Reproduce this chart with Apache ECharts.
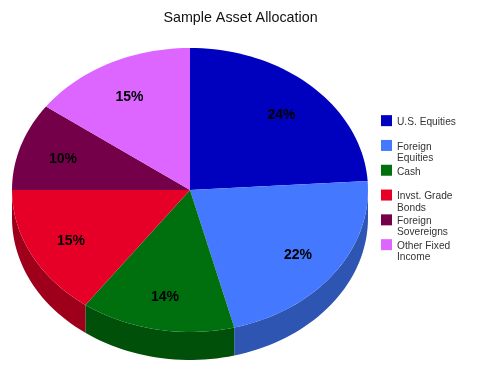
<!DOCTYPE html>
<html>
<head>
<meta charset="utf-8">
<title>Sample Asset Allocation</title>
<script src="https://cdn.jsdelivr.net/npm/echarts@6/dist/echarts.min.js"></script>
<style>
  html, body { margin: 0; padding: 0; background: #fff; }
  #chart { width: 480px; height: 370px; }
</style>
</head>
<body>
<div id="chart"></div>
<script>
  var categories = ['U.S. Equities', 'Foreign\nEquities', 'Cash', 'Invst. Grade\nBonds', 'Foreign\nSovereigns', 'Other Fixed\nIncome'];
  var shares = [24, 22, 14, 15, 10, 15];
  var topColors = ['#0000bf', '#4479ff', '#00700f', '#e60028', '#740049', '#dc66ff'];
  var sideColors = ['#00008f', '#2e55b2', '#00500a', '#9e001c', '#520034', '#9c48b4'];

  // thickness of the pie, in y axis units (radius = 1)
  var depth = 0.197;
  var labelRadius = 0.75;

  var total = shares.reduce(function (a, b) { return a + b; }, 0);

  function startAngle(idx) {
    var sum = 0;
    for (var i = 0; i < idx; i++) sum += shares[i];
    return sum / total * 360;
  }

  function onRim(deg, r, drop) {
    var rad = deg * Math.PI / 180;
    return [r * Math.sin(rad), r * Math.cos(rad) - (drop || 0)];
  }

  function arc(from, to, drop) {
    var pts = [];
    var n = Math.max(2, Math.ceil((to - from) / 2));
    for (var i = 0; i <= n; i++) {
      pts.push(onRim(from + (to - from) * i / n, 1, drop));
    }
    return pts;
  }

  function makeItem(idx) {
    return function (params, api) {
      var from = startAngle(idx);
      var to = from + shares[idx] / total * 360;
      var children = [];

      // only the front of the rim can be seen
      var sideFrom = Math.max(from, 90);
      var sideTo = Math.min(to, 270);
      if (sideTo > sideFrom) {
        var side = arc(sideFrom, sideTo, 0).concat(arc(sideFrom, sideTo, depth).reverse());
        children.push({
          type: 'polygon',
          shape: { points: side.map(api.coord) },
          style: { fill: sideColors[idx] }
        });
      }

      var slice = [[0, 0]].concat(arc(from, to, 0));
      children.push({
        type: 'polygon',
        shape: { points: slice.map(api.coord) },
        style: { fill: topColors[idx] }
      });

      var pos = api.coord(onRim((from + to) / 2, labelRadius, 0));
      children.push({
        type: 'text',
        x: pos[0],
        y: pos[1] + 2.5,
        style: {
          text: Math.round(shares[idx] / total * 100) + '%',
          fill: '#000',
          font: 'bold 14px "Liberation Sans", Arial, sans-serif',
          align: 'center',
          verticalAlign: 'middle'
        }
      });
      return { type: 'group', children: children };
    };
  }

  var legendFont = '"Liberation Sans", Arial, sans-serif';

  var myChart = echarts.init(document.getElementById('chart'), null, { renderer: 'canvas' });
  myChart.setOption({
    animation: false,
    title: {
      text: 'Sample Asset Allocation',
      left: 235.5,
      top: 6,
      textAlign: 'center',
      textStyle: {
        color: '#111',
        fontSize: 14.3,
        fontWeight: 'normal',
        fontFamily: '"Liberation Sans", Arial, sans-serif'
      }
    },
    legend: {
      left: 381,
      top: 102.2,
      orient: 'vertical',
      align: 'left',
      padding: 0,
      itemWidth: 11,
      itemHeight: 11,
      itemGap: -12.1,
      icon: 'rect',
      selectedMode: false,
      // a taller blank line on top puts the first real line just under the swatch centre
      formatter: function (name) {
        var lines = name.split('\n');
        if (lines.length < 2) lines.push(' ');
        return '{gap| }\n{t|' + lines[0] + '}\n{t|' + lines[1] + '}';
      },
      textStyle: {
        rich: {
          gap: { fontSize: 10.2, lineHeight: 14.3, height: 14.3, fontFamily: legendFont },
          t: { color: '#333', fontSize: 10.2, lineHeight: 11.3, height: 11.3, fontFamily: legendFont }
        }
      },
      data: categories
    },
    grid: { left: 12, top: 48, width: 356, height: 284 },
    xAxis: { type: 'value', min: -1, max: 1, show: false },
    yAxis: { type: 'value', min: -1, max: 1, show: false },
    series: categories.map(function (name, idx) {
      return {
        type: 'custom',
        name: name,
        coordinateSystem: 'cartesian2d',
        itemStyle: { color: topColors[idx] },
        clip: false,
        silent: true,
        renderItem: makeItem(idx),
        data: [[shares[idx]]]
      };
    })
  });
</script>
</body>
</html>
